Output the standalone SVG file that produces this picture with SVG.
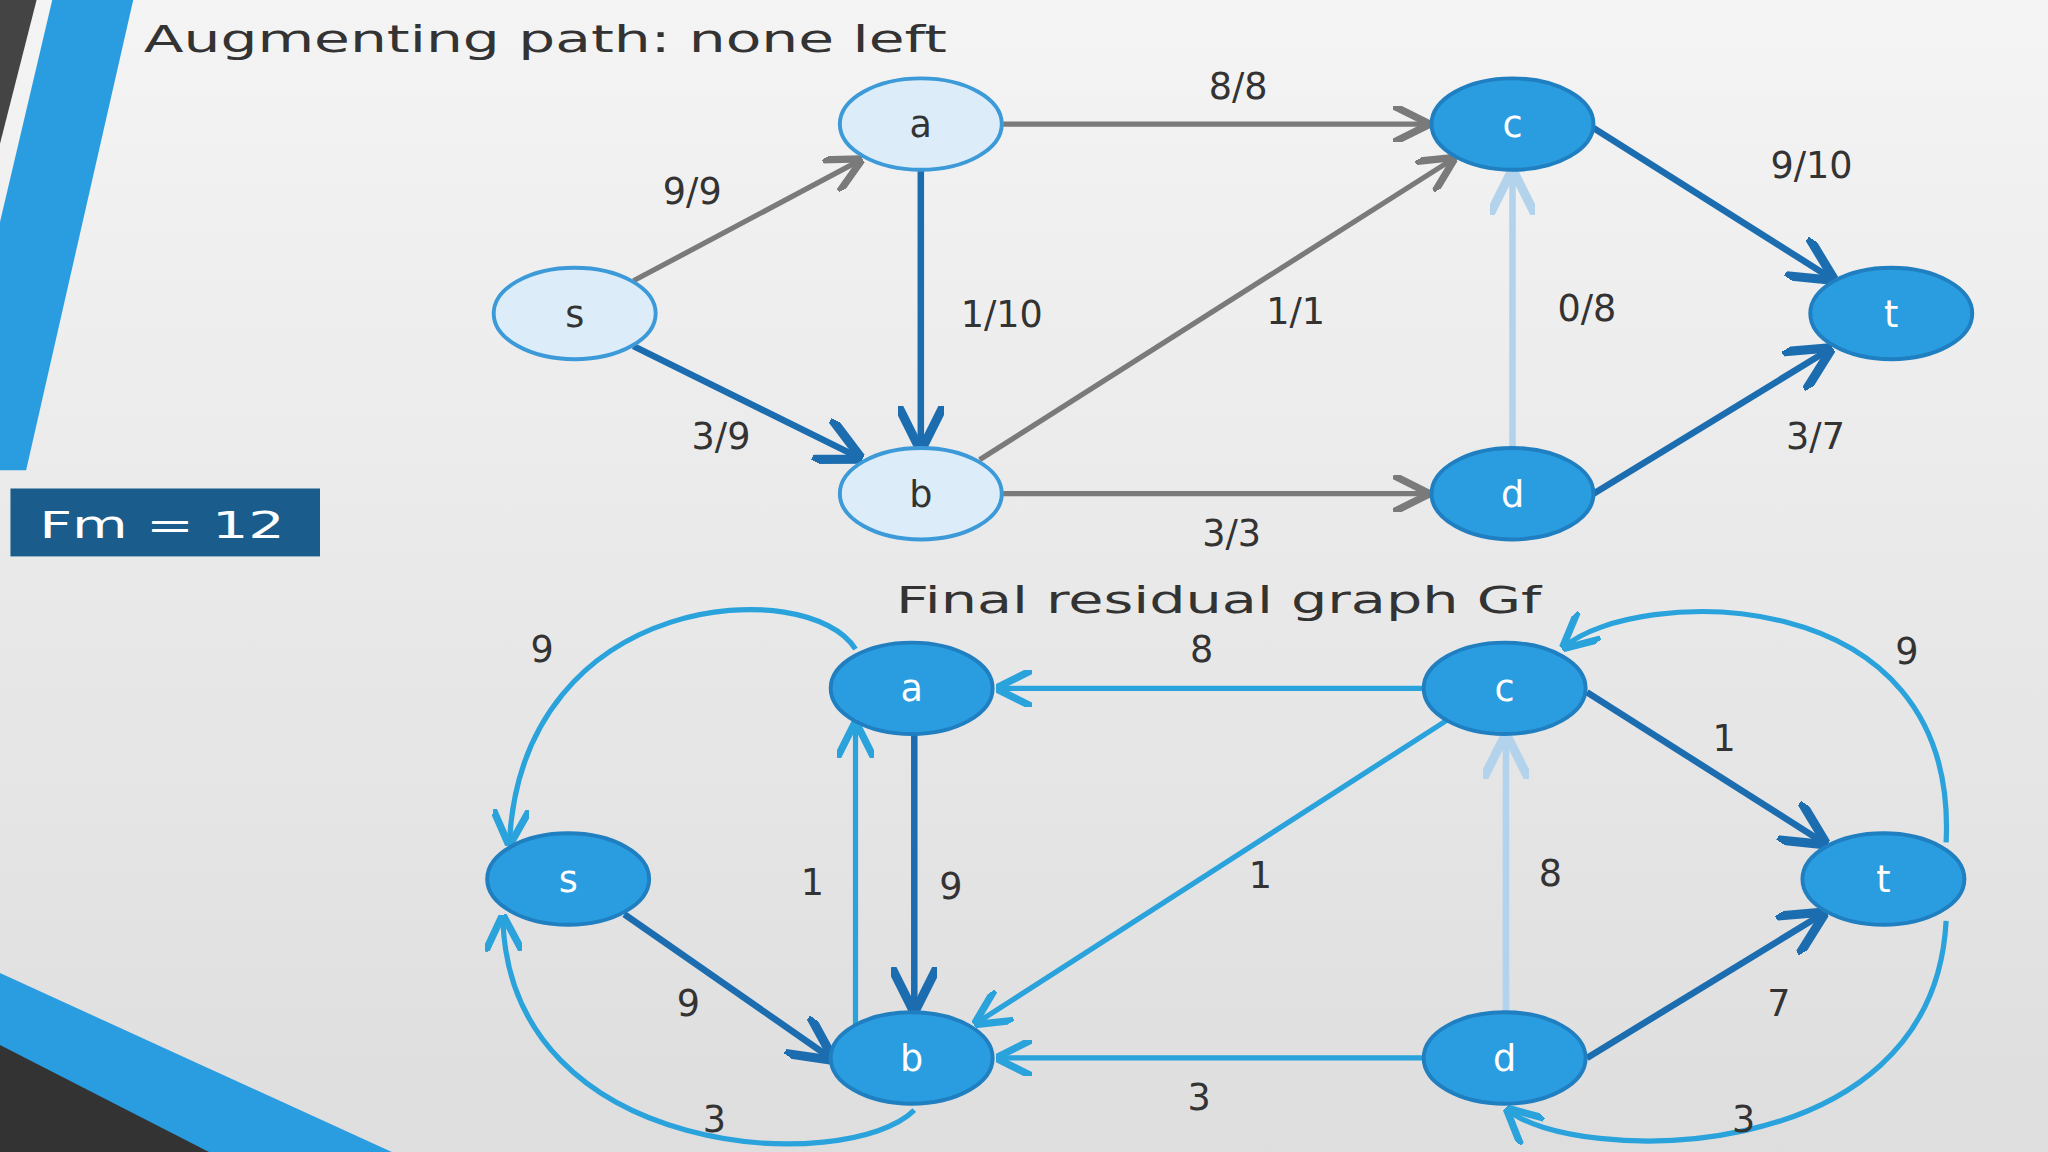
<svg xmlns="http://www.w3.org/2000/svg" width="2048" height="1152" viewBox="0 0 2048 1152">
<defs>
<linearGradient id="bg" x1="0" y1="0" x2="0" y2="1"><stop offset="0" stop-color="#f4f4f4"/><stop offset="1" stop-color="#dedede"/></linearGradient>
<marker id="mg" viewBox="0 0 10 10" refX="9" refY="5" markerWidth="7" markerHeight="7" orient="auto"><path d="M0,0 L10,5 L0,10" fill="none" stroke="#7a7a7a" stroke-width="2"/></marker>
<marker id="md" viewBox="0 0 10 10" refX="9" refY="5" markerWidth="7" markerHeight="7" orient="auto"><path d="M0,0 L10,5 L0,10" fill="none" stroke="#1c6db0" stroke-width="2"/></marker>
<marker id="ml" viewBox="0 0 10 10" refX="9" refY="5" markerWidth="7" markerHeight="7" orient="auto"><path d="M0,0 L10,5 L0,10" fill="none" stroke="#2aa2dc" stroke-width="2"/></marker>
<marker id="mp" viewBox="0 0 10 10" refX="9" refY="5" markerWidth="7" markerHeight="7" orient="auto"><path d="M0,0 L10,5 L0,10" fill="none" stroke="#b3d3ec" stroke-width="2"/></marker>
</defs>
<style>
.t{font-family:"DejaVu Sans","Liberation Sans",sans-serif;fill:#333;font-size:28px}
.n{font-family:"DejaVu Sans","Liberation Sans",sans-serif;font-size:28px;text-anchor:middle}
.lt ellipse{fill:#dcedf9;stroke:#3d9ad8;stroke-width:3}
.lt text{fill:#333}
.bl ellipse{fill:#2a9de0;stroke:#1f7fc0;stroke-width:3}
.bl text{fill:#fff}
.g{stroke:#7a7a7a;stroke-width:4;fill:none;marker-end:url(#mg)}
.d{stroke:#1c6db0;stroke-width:5;fill:none;marker-end:url(#md)}
.l{stroke:#2aa2dc;stroke-width:4;fill:none;marker-end:url(#ml)}
.p{stroke:#b3d3ec;stroke-width:5;fill:none;marker-end:url(#mp)}
</style>
<rect width="2048" height="1152" fill="url(#bg)"/>
<g transform="scale(1.30612)">
<polygon points="0,0 28,0 0,110" fill="#444"/>
<polygon points="40,0 102,0 20,360 0,360 0,170" fill="#2a9de0"/>
<polygon points="0,745 300,882 120,882 0,830" fill="#2a9de0"/>
<polygon points="0,800 160,882 0,882" fill="#333"/>
<text class="t" x="110" y="40" font-size="30" textLength="615" lengthAdjust="spacingAndGlyphs">Augmenting path: none left</text>
<g id="fm"><rect x="8" y="374" width="237" height="52" fill="#1a5d8c"/><text class="n" x="124" y="412" fill="#fff" font-size="32" textLength="188" lengthAdjust="spacingAndGlyphs">Fm = 12</text></g>
<text class="t" x="686" y="469" font-size="30" textLength="494" lengthAdjust="spacingAndGlyphs">Final residual graph Gf</text>
<g id="connectors">
<line class="g" x1="485" y1="215" x2="658" y2="123"/>
<line class="g" x1="768" y1="95" x2="1092" y2="95"/>
<line class="d" x1="705" y1="130" x2="705" y2="342"/>
<line class="g" x1="750" y1="352" x2="1112" y2="122"/>
<line class="p" x1="1158" y1="343" x2="1158" y2="133"/>
<line class="d" x1="1220" y1="98" x2="1402" y2="213"/>
<line class="d" x1="485" y1="265" x2="657" y2="350"/>
<line class="g" x1="768" y1="378" x2="1092" y2="378"/>
<line class="d" x1="1220" y1="378" x2="1400" y2="268"/>
<line class="l" x1="1090" y1="527" x2="765" y2="527"/>
<line class="d" x1="700" y1="562" x2="700" y2="772"/>
<line class="l" x1="655" y1="790" x2="655" y2="555"/>
<line class="l" x1="1110" y1="550" x2="748" y2="783"/>
<line class="p" x1="1153" y1="775" x2="1153" y2="565"/>
<line class="d" x1="1215" y1="530" x2="1396" y2="645"/>
<line class="d" x1="478" y1="700" x2="636" y2="810"/>
<line class="l" x1="1090" y1="810" x2="765" y2="810"/>
<line class="d" x1="1215" y1="810" x2="1395" y2="700"/>
<path class="l" d="M655,497 C620,440 400,450 390,645"/>
<path class="l" d="M700,850 C650,900 390,890 385,703"/>
<path class="l" d="M1490,645 C1500,440 1250,450 1198,495"/>
<path class="l" d="M1490,705 C1480,900 1200,890 1155,850"/>
</g>
<g class="t" text-anchor="middle">
<text x="948" y="76">8/8</text><text x="530" y="156">9/9</text><text x="767" y="250">1/10</text>
<text x="992" y="248">1/1</text><text x="1215" y="246">0/8</text><text x="1387" y="136">9/10</text>
<text x="552" y="344">3/9</text><text x="1390" y="344">3/7</text><text x="943" y="418">3/3</text>
<text x="415" y="507">9</text><text x="920" y="507">8</text><text x="1460" y="508">9</text>
<text x="1320" y="575">1</text><text x="622" y="685">1</text><text x="728" y="688">9</text>
<text x="965" y="680">1</text><text x="1187" y="678">8</text><text x="527" y="778">9</text>
<text x="1362" y="778">7</text><text x="547" y="867">3</text><text x="918" y="850">3</text><text x="1335" y="867">3</text>
</g>
<g id="top-a" class="lt"><ellipse cx="705" cy="95" rx="62" ry="35"/><text class="n" x="705" y="105">a</text></g>
<g id="top-b" class="lt"><ellipse cx="705" cy="378" rx="62" ry="35"/><text class="n" x="705" y="388">b</text></g>
<g id="top-s" class="lt"><ellipse cx="440" cy="240" rx="62" ry="35"/><text class="n" x="440" y="250">s</text></g>
<g id="top-c" class="bl"><ellipse cx="1158" cy="95" rx="62" ry="35"/><text class="n" x="1158" y="105">c</text></g>
<g id="top-d" class="bl"><ellipse cx="1158" cy="378" rx="62" ry="35"/><text class="n" x="1158" y="388">d</text></g>
<g id="top-t" class="bl"><ellipse cx="1448" cy="240" rx="62" ry="35"/><text class="n" x="1448" y="250">t</text></g>
<g id="bot-a" class="bl"><ellipse cx="698" cy="527" rx="62" ry="35"/><text class="n" x="698" y="537">a</text></g>
<g id="bot-b" class="bl"><ellipse cx="698" cy="810" rx="62" ry="35"/><text class="n" x="698" y="820">b</text></g>
<g id="bot-s" class="bl"><ellipse cx="435" cy="673" rx="62" ry="35"/><text class="n" x="435" y="683">s</text></g>
<g id="bot-c" class="bl"><ellipse cx="1152" cy="527" rx="62" ry="35"/><text class="n" x="1152" y="537">c</text></g>
<g id="bot-d" class="bl"><ellipse cx="1152" cy="810" rx="62" ry="35"/><text class="n" x="1152" y="820">d</text></g>
<g id="bot-t" class="bl"><ellipse cx="1442" cy="673" rx="62" ry="35"/><text class="n" x="1442" y="683">t</text></g>
</g>
</svg>
